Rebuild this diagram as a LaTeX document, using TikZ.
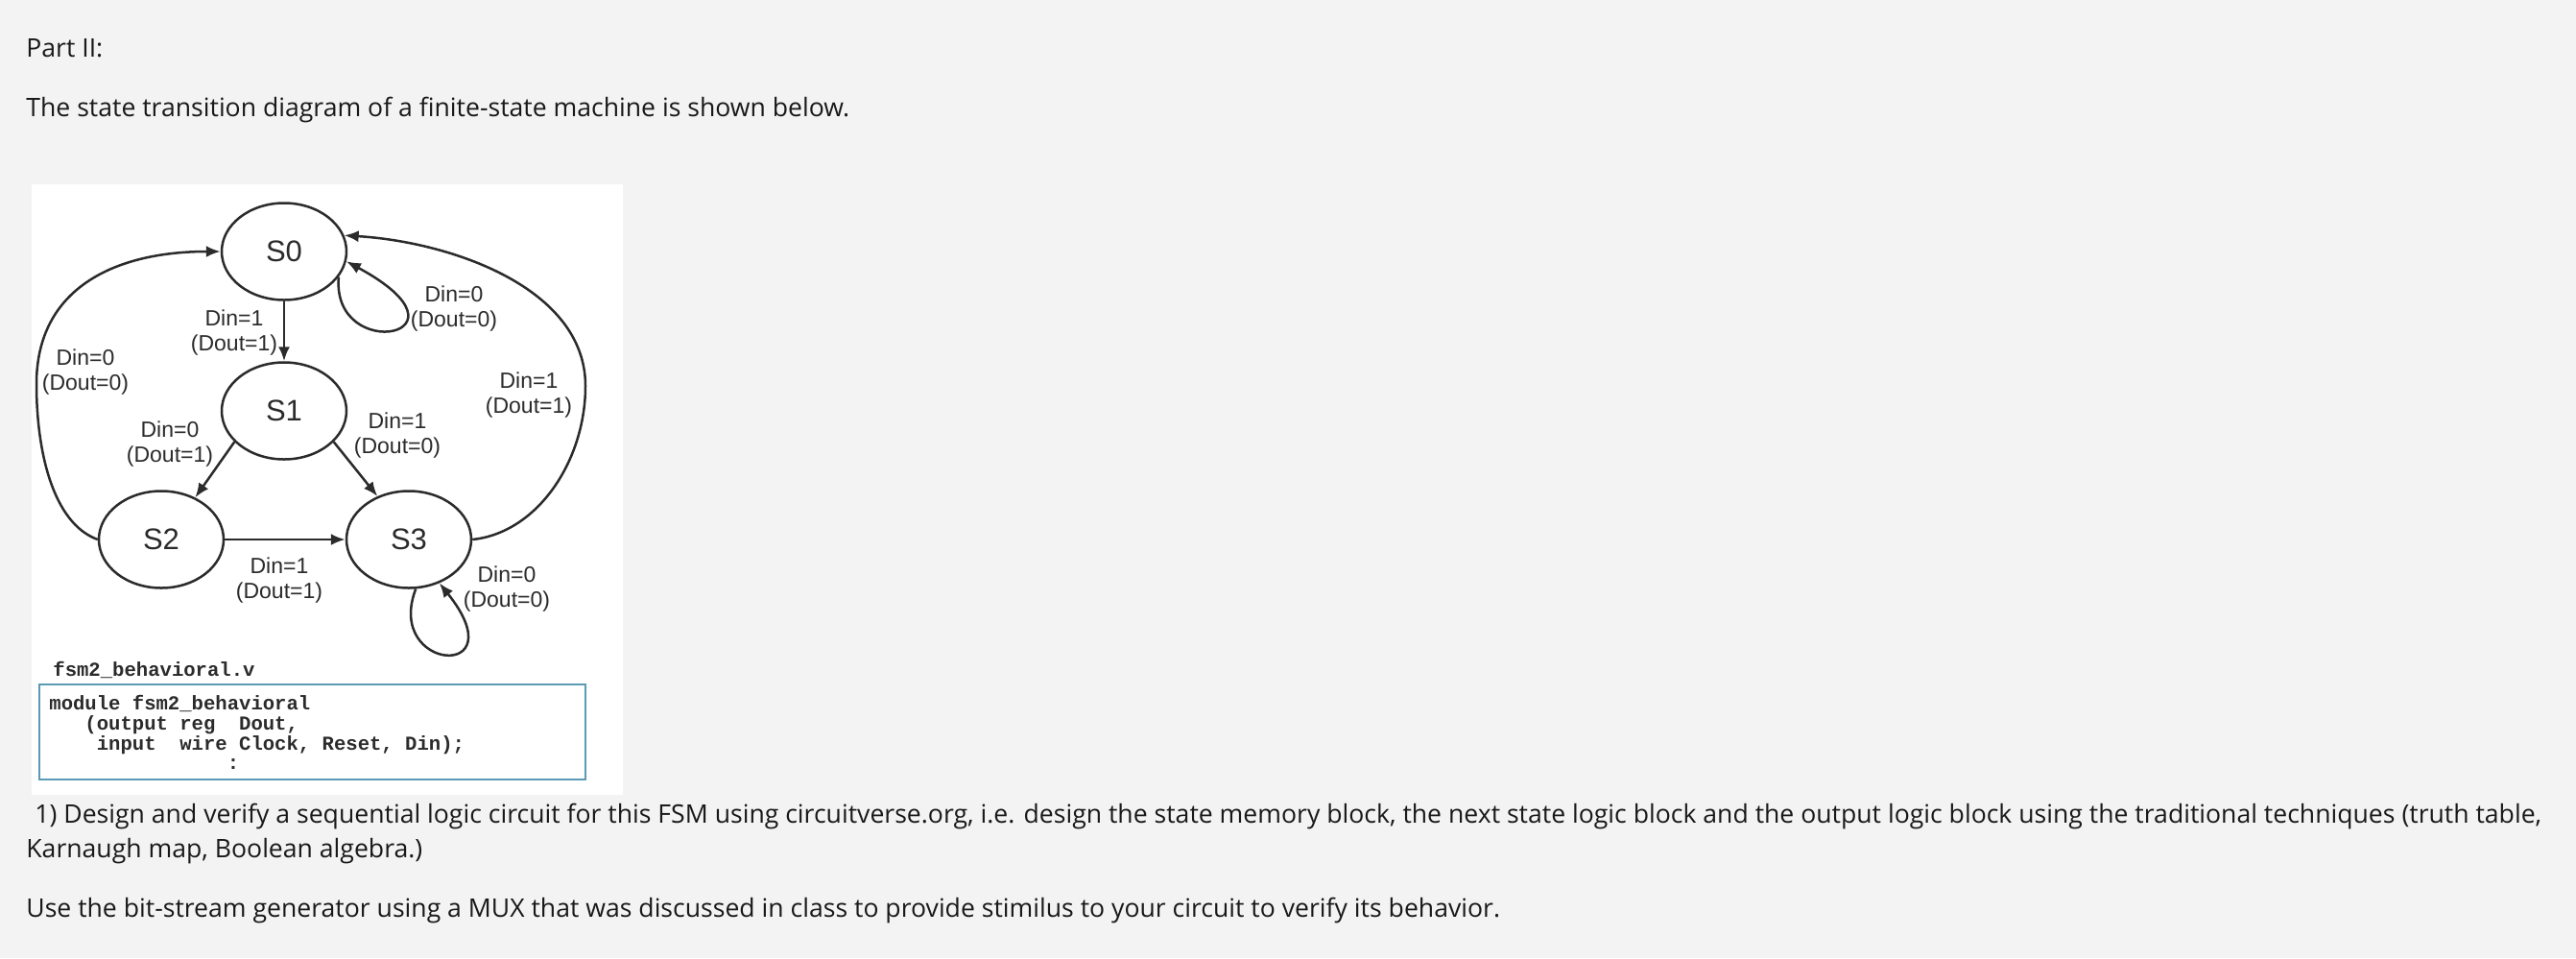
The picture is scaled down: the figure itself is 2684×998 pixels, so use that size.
\documentclass[tikz,border=0pt]{standalone}
\usepackage{fontspec}
\setmainfont{Open Sans}
\newfontfamily\arialfont{Liberation Sans}
\newfontfamily\courfont{Liberation Mono}
\usetikzlibrary{shapes.geometric,arrows.meta}
\definecolor{pagebg}{HTML}{F3F3F3}
\definecolor{codeframe}{HTML}{5A9AB4}
\definecolor{inkgray}{HTML}{2B2B2B}

\begin{document}
\begin{tikzpicture}[x=0.5pt,y=-0.5pt,
  fsmstate/.style={ellipse,draw=inkgray,line width=1.25pt,minimum width=65pt,minimum height=50.5pt,inner sep=0pt,text=inkgray,font=\arialfont\fontsize{15.5}{18}\selectfont},
  lbl/.style={align=center,inner sep=0pt,text=inkgray,font=\arialfont\fontsize{11.5}{13}\selectfont},
  trans/.style={draw=inkgray,line width=1.25pt,-{Latex[length=7.5pt,width=6pt]}},
  para/.style={anchor=base west,inner sep=0pt,text=black!90,font=\fontsize{13.3}{18}\selectfont},
  codetxt/.style={anchor=base west,inner sep=0pt,text=inkgray,font=\courfont\bfseries\fontsize{10.3}{10.5}\selectfont}]

% page and white panel
\fill[pagebg] (0,0) rectangle (2684,998);
\fill[white] (33,192) rectangle (649,828);

% texts around the figure
\node[para] (part) at (27,59) {Part II:};
\node[para] (intro) at (27,121) {The state transition diagram of a finite-state machine is shown below.};
\node[para] (task1) at (36,857) {1) Design and verify a sequential logic circuit for this FSM using circuitverse.org, i.e. design the state memory block, the next state logic block and the output logic block using the traditional techniques (truth table,};
\node[para] (task2) at (27,893) {Karnaugh map, Boolean algebra.)};
\node[para] (task3) at (27,955) {Use the bit-stream generator using a MUX that was discussed in class to provide stimilus to your circuit to verify its behavior.};

% states
\node[fsmstate] (s0) at (296,262) {S0};
\node[fsmstate] (s1) at (296,428) {S1};
\node[fsmstate] (s2) at (168,562) {S2};
\node[fsmstate] (s3) at (426,562) {S3};

% transitions
\draw[trans] (s0) -- (s1);
\draw[trans] (s1.212) -- (s2.51);
\draw[trans] (s1.328) -- (s3.126);
\draw[trans] (s2) -- (s3);
\coordinate (lw) at (38,400);
\draw[trans] (s2.180) .. controls (55,545) and (38,470) .. (lw) .. controls (38,300) and (120,262) .. (s0.180);
\coordinate (rw) at (610,402);
\draw[trans] (s3.0) .. controls (560,555) and (610,480) .. (rw) .. controls (610,300) and (470,252) .. (s0.15);
\draw[trans] (s0.335) .. controls (345,380) and (505,350) .. (s0.351);
\draw[trans] (s3.278) .. controls (400,700) and (540,710) .. (s3.305);

% transition labels
\node[lbl] (l01) at (244,347) {Din=1\\(Dout=1)};
\node[lbl] (l00) at (473,322) {Din=0\\(Dout=0)};
\node[lbl] (l20) at (89,388) {Din=0\\(Dout=0)};
\node[lbl] (l30) at (551,412) {Din=1\\(Dout=1)};
\node[lbl] (l13) at (414,454) {Din=1\\(Dout=0)};
\node[lbl] (l12) at (177,463) {Din=0\\(Dout=1)};
\node[lbl] (l23) at (291,605) {Din=1\\(Dout=1)};
\node[lbl] (l33) at (528,614) {Din=0\\(Dout=0)};

% verilog file
\node[codetxt] (fname) at (55,704) {fsm2\_behavioral.v};
\draw[codeframe,line width=1pt] (41,713) rectangle (610,812);
\node[codetxt] (c1) at (51,739) {module fsm2\_behavioral};
\node[codetxt] (c2) at (51,760) {\hspace*{1.8em}(output reg~~Dout,};
\node[codetxt] (c3) at (51,781) {\hspace*{2.4em}input~~wire Clock, Reset, Din);};
\node[codetxt] (c4) at (51,801) {\hspace*{9em}:};
\end{tikzpicture}
\end{document}
